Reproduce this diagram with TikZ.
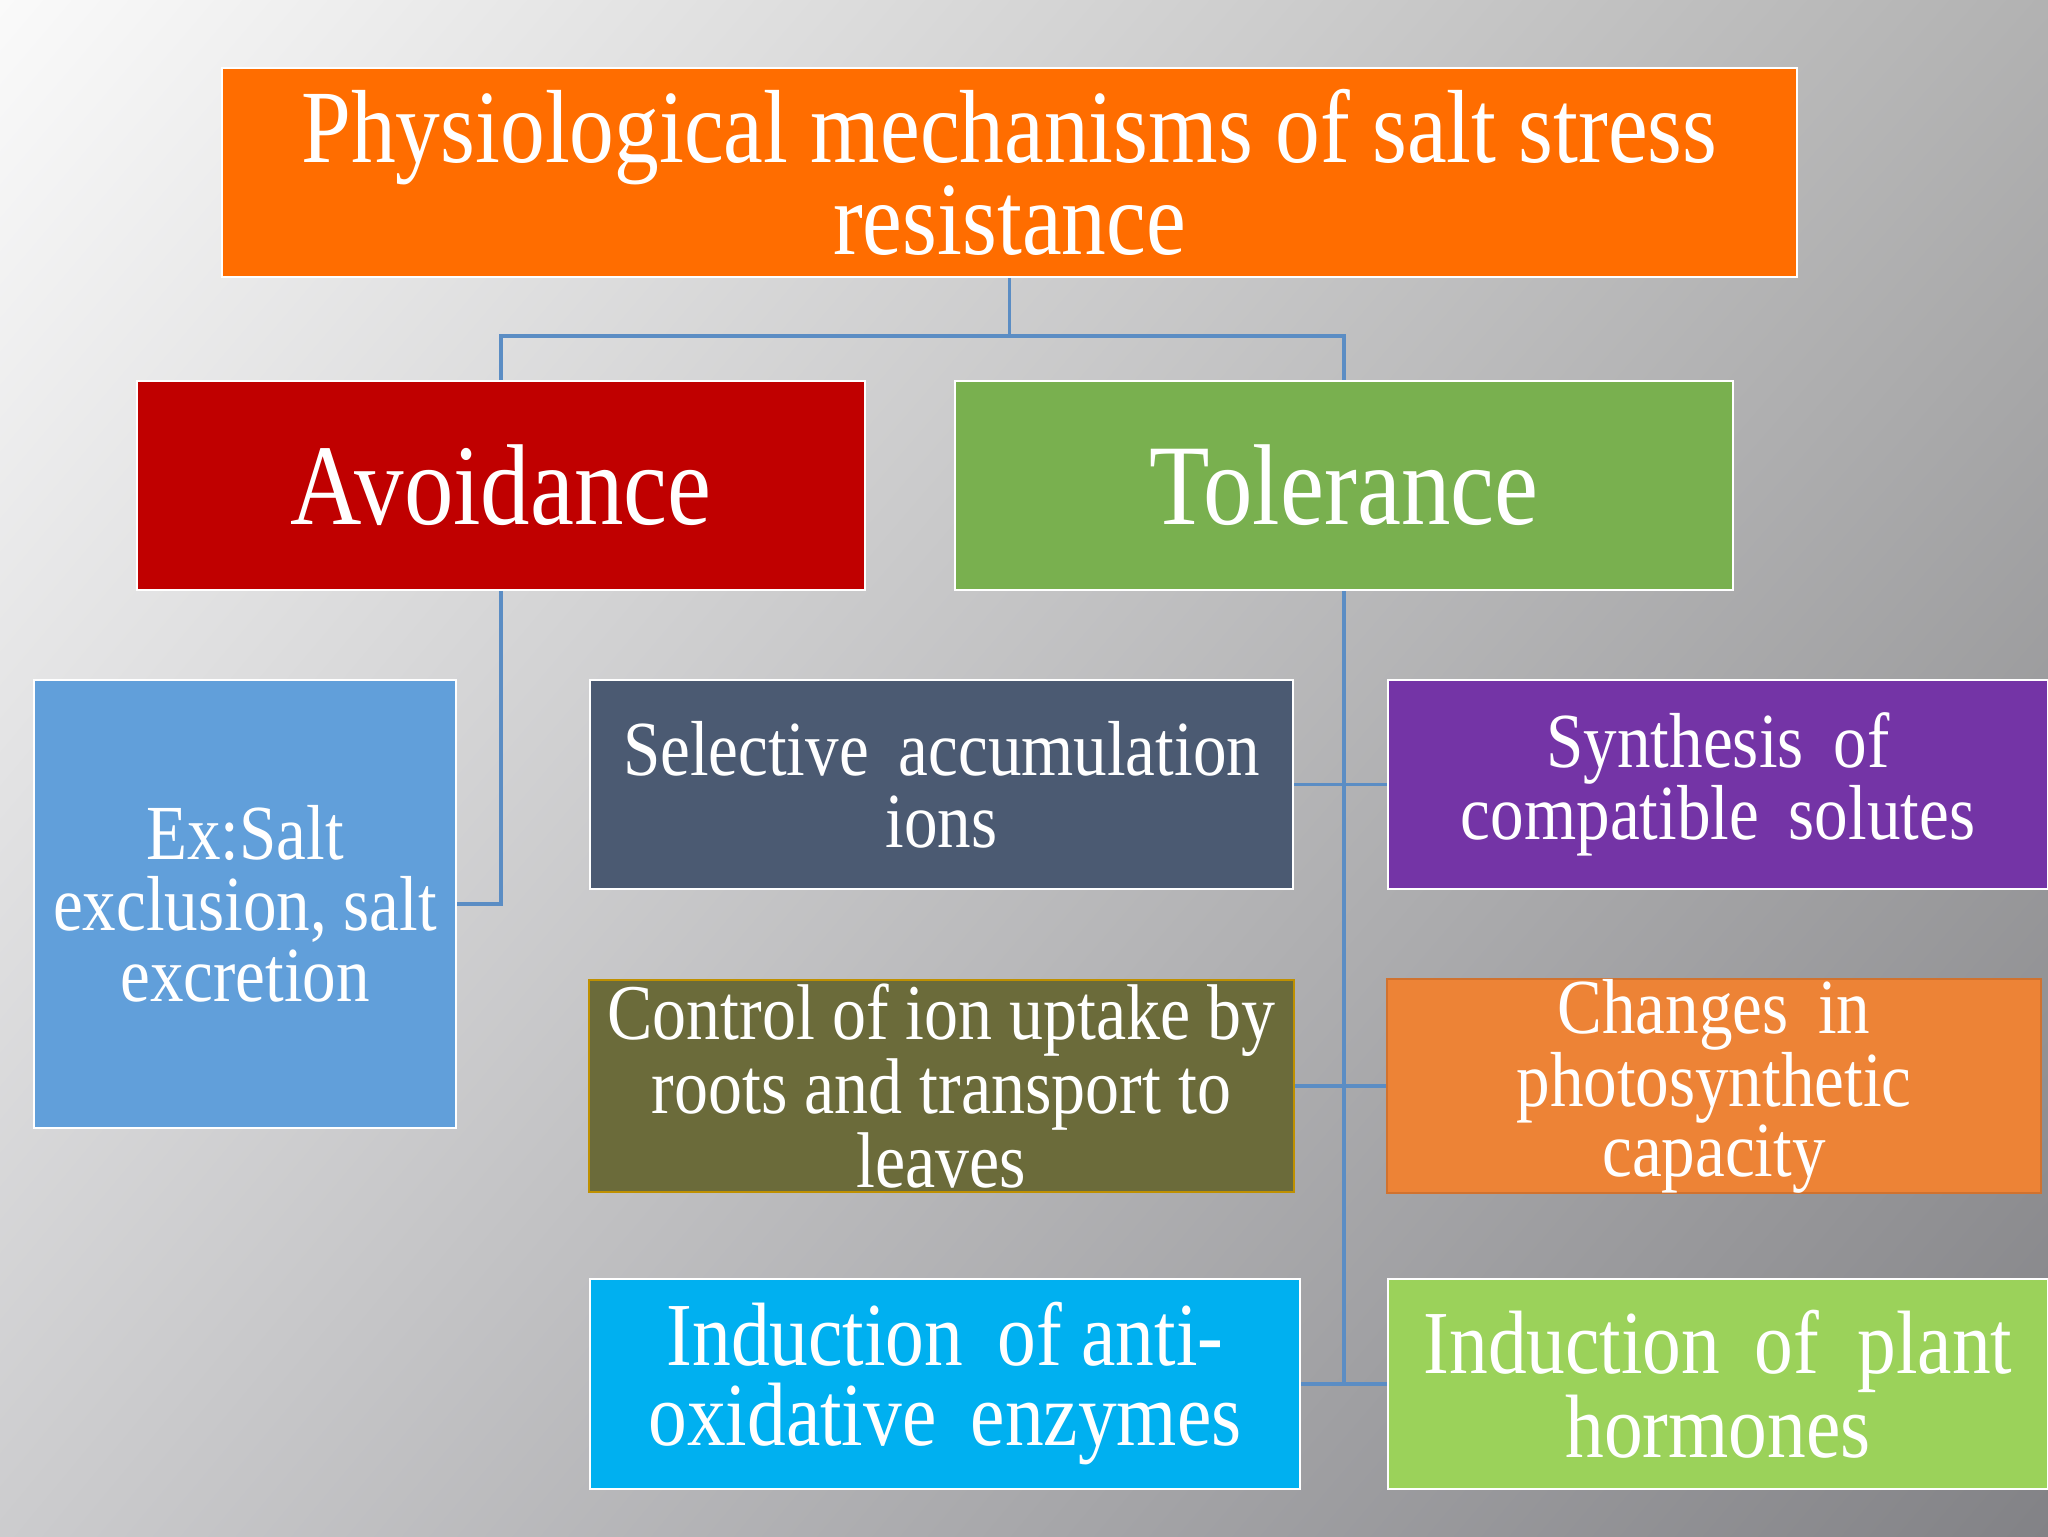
\documentclass[tikz,border=0pt]{standalone}
\usepackage{fontspec}
\setmainfont{Liberation Serif}[FakeStretch=0.86]
\usepackage{xcolor}
\usetikzlibrary{positioning,shadings}

\begin{document}
\begin{tikzpicture}[x=1pt,y=1pt,
  cell/.style={draw=white,line width=1.2pt,text=white,align=center,inner sep=0pt},
  link/.style={draw=linkColor,line width=1.7pt}]
\definecolor{bgTL}{RGB}{250,250,250}
\definecolor{bgTR}{RGB}{178,178,178}
\definecolor{bgBL}{RGB}{204,204,206}
\definecolor{bgBR}{RGB}{130,130,134}
\definecolor{linkColor}{RGB}{91,141,196}
\definecolor{titleColor}{RGB}{255,109,0}
\definecolor{avoidColor}{RGB}{192,0,0}
\definecolor{tolerColor}{RGB}{121,176,79}
\definecolor{exColor}{RGB}{97,159,218}
\definecolor{selectColor}{RGB}{75,90,114}
\definecolor{synthColor}{RGB}{116,52,166}
\definecolor{controlColor}{RGB}{107,107,58}
\definecolor{controlEdge}{RGB}{191,144,0}
\definecolor{changesColor}{RGB}{237,131,54}
\definecolor{changesEdge}{RGB}{208,114,47}
\definecolor{antiColor}{RGB}{0,176,240}
\definecolor{plantColor}{RGB}{155,210,90}
\path[use as bounding box] (0,0) rectangle (1024,768);
\shade[upper left=bgTL,upper right=bgTR,lower left=bgBL,lower right=bgBR] (0,0) rectangle (1024,768);

% top level
\node[cell,fill=titleColor,minimum width=787.5pt,minimum height=104.5pt,
  font=\fontsize{52}{46}\selectfont] (title) at (504.75,681.75)
  {Physiological mechanisms of salt stress\\resistance};

% two branches
\node[cell,fill=avoidColor,minimum width=364pt,minimum height=104.5pt,
  font=\fontsize{57.5}{60}\selectfont] (avoid) at (250.5,525.25) {Avoidance};
\node[cell,fill=tolerColor,minimum width=389pt,minimum height=104.5pt,
  font=\fontsize{57.5}{60}\selectfont] (toler) at (672,525.25) {Tolerance};

% avoidance leaf
\node[cell,fill=exColor,minimum width=211pt,minimum height=224pt,
  font=\fontsize{39}{35.5}\selectfont] (ex) at (122.5,316)
  {Ex:Salt\\exclusion, salt\\excretion};

% tolerance leaves
\node[cell,fill=selectColor,minimum width=351.5pt,minimum height=104.5pt,
  font=\fontsize{39}{36}\selectfont] (select) at (470.75,375.75)
  {Selective\, accumulation\\ions};
\node[cell,fill=synthColor,minimum width=330pt,minimum height=104.5pt,
  font=\fontsize{39}{36}\selectfont] (synth) at (859,375.75)
  {Synthesis\, of\\compatible\, solutes};
\node[cell,draw=controlEdge,fill=controlColor,minimum width=352.5pt,minimum height=106pt,
  font=\fontsize{39.5}{35}\selectfont] (control) at (470.75,225)
  {Control of ion uptake by\\roots and transport to\\leaves};
\node[cell,draw=changesEdge,line width=0.6pt,fill=changesColor,minimum width=327pt,minimum height=106pt,
  font=\fontsize{39}{35}\selectfont] (changes) at (857,225)
  {Changes\, in\\photosynthetic\\capacity};
\node[cell,fill=antiColor,minimum width=355pt,minimum height=105pt,
  font=\fontsize{45}{40}\selectfont] (anti) at (472.5,76)
  {Induction\, of anti-\\oxidative\, enzymes};
\node[cell,fill=plantColor,minimum width=330pt,minimum height=105pt,
  font=\fontsize{45}{40}\selectfont] (plant) at (859,76)
  {Induction\, of\ \ plant\\hormones};

% connectors
\coordinate (bus) at (504.75,600);
\draw[link] (title.south) -- (bus) -| (avoid.north);
\draw[link] (bus) -| (toler.north);
\draw[link] (avoid.south) |- (ex.east);
\draw[link] (toler.south) -- (toler.south |- anti.east);
\draw[link] (select.east) -- (synth.west);
\draw[link] (control.east) -- (changes.west);
\draw[link] (anti.east) -- (plant.west);
\end{tikzpicture}
\end{document}
